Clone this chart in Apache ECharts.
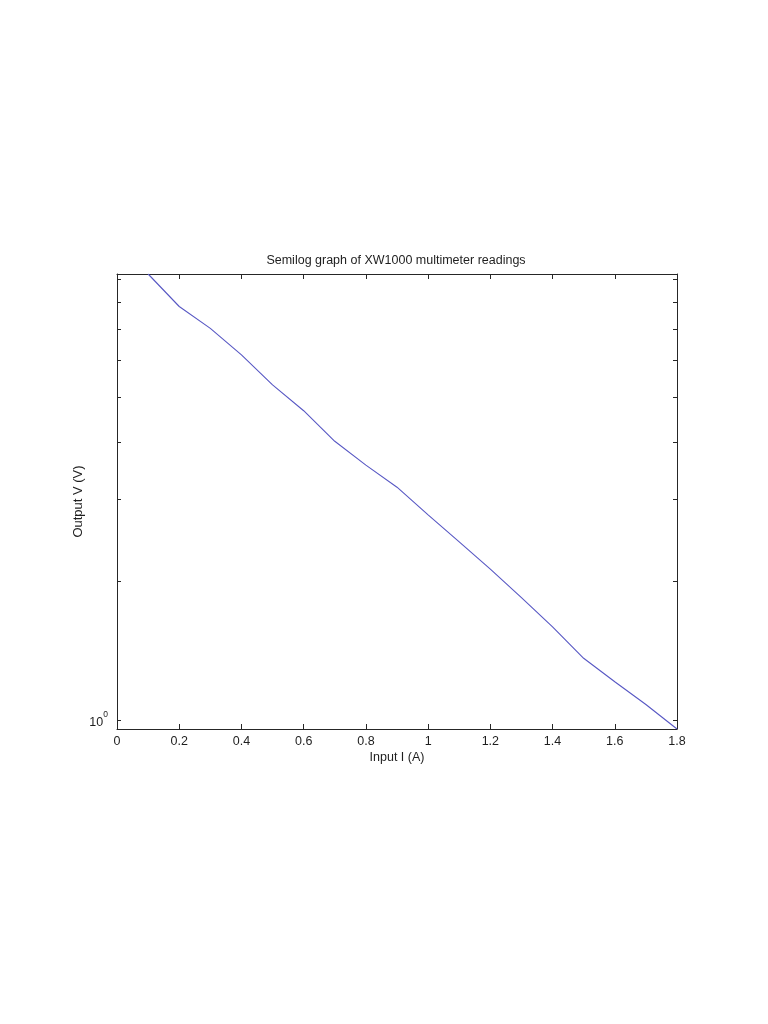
<!DOCTYPE html>
<html>
<head>
<meta charset="utf-8">
<script src="https://cdn.jsdelivr.net/npm/echarts@6/dist/echarts.min.js"></script>
<style>html,body{margin:0;padding:0;background:#fff}#c{width:768px;height:1024px}</style>
</head>
<body>
<div id="c"></div>
<script>
const titleText = 'Semilog graph of XW1000 multimeter readings';
const xName = 'Input I (A)';
const yName = 'Output V (V)';
const inputI = [0.1, 0.2, 0.3, 0.4, 0.5, 0.6, 0.7, 0.8, 0.9, 1.0, 1.1, 1.2, 1.3, 1.4, 1.5, 1.6, 1.7, 1.8];
const outputV = [9.23, 7.85, 7.04, 6.17, 5.31, 4.67, 4.01, 3.56, 3.19, 2.78, 2.43, 2.12, 1.84, 1.59, 1.36, 1.21, 1.08, 0.956];
const yTickValues = [1, 2, 3, 4, 5, 6, 7, 8, 9];
const yLabelValues = [1];
const xMin = 0, xMax = 1.8, xStep = 0.2;

const yMin = Math.min(...outputV);
const yMax = Math.max(...outputV);
const font = 'Liberation Sans, Arial, sans-serif';
const axisCol = '#262626';
const textCol = '#1e1e1e';

const chart = echarts.init(document.getElementById('c'), null, {renderer: 'canvas'});
function xAx(pos, extra) {
  return Object.assign({
    type: 'value', min: xMin, max: xMax, interval: xStep, position: pos,
    axisLine: {show: true, onZero: false, lineStyle: {color: axisCol, width: 1}},
    axisTick: {show: true, inside: true, length: 5, lineStyle: {color: axisCol}},
    splitLine: {show: false}
  }, extra);
}
function yAx(pos, extra) {
  return Object.assign({
    type: 'log', logBase: 10, min: yMin, max: yMax, position: pos,
    axisLine: {show: true, onZero: false, lineStyle: {color: axisCol, width: 1}},
    axisTick: {show: true, inside: true, length: 4, customValues: yTickValues, lineStyle: {color: axisCol}},
    splitLine: {show: false},
    minorTick: {show: false}
  }, extra);
}
chart.setOption({
  animation: false,
  backgroundColor: '#ffffff',
  title: {
    text: titleText, left: 391, top: 249, textAlign: 'center',
    textStyle: {fontFamily: font, fontSize: 12.5, fontWeight: 'normal', color: textCol}
  },
  grid: {left: 117, right: 91, top: 274, bottom: 295, containLabel: false},
  xAxis: [
    xAx('bottom', {
      name: xName, nameLocation: 'middle', nameGap: 22,
      nameTextStyle: {fontFamily: font, fontSize: 12.5, color: textCol},
      axisLabel: {show: true, margin: 6, fontFamily: font, fontSize: 12.5, color: textCol, showMinLabel: true, showMaxLabel: true}
    }),
    xAx('top', {axisLabel: {show: false}})
  ],
  yAxis: [
    yAx('left', {
      name: yName, nameLocation: 'middle', nameGap: 32, nameRotate: 90, nameMoveOverlap: false,
      nameTextStyle: {fontFamily: font, fontSize: 13, color: textCol},
      axisLabel: {
        show: true, margin: 9, customValues: yLabelValues,
        formatter: function (v) { return '{b|10}{s|' + Math.round(Math.log10(v)) + '}'; },
        rich: {
          b: {fontFamily: font, fontSize: 12.5, color: textCol, verticalAlign: 'bottom', lineHeight: 14},
          s: {fontFamily: font, fontSize: 8.5, color: textCol, verticalAlign: 'top', padding: [0, 0, 10, 0]}
        }
      }
    }),
    yAx('right', {axisLabel: {show: false}})
  ],
  series: [{
    type: 'line',
    xAxisIndex: 0, yAxisIndex: 0,
    data: inputI.map((x, i) => [x, outputV[i]]),
    showSymbol: false, symbol: 'none',
    lineStyle: {color: '#5858c4', width: 1.1},
    clip: true
  }]
});
</script>
</body>
</html>
